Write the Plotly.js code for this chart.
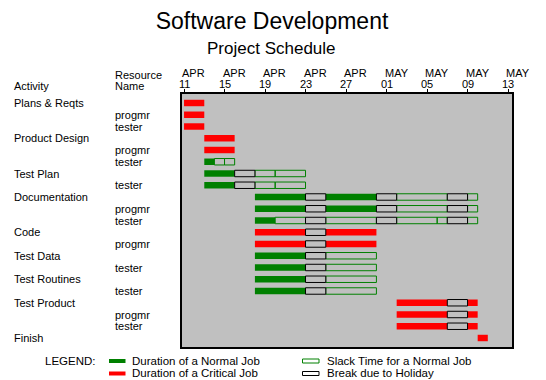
<!DOCTYPE html>
<html><head><meta charset="utf-8">
<script src="https://cdn.plot.ly/plotly-3.0.1.min.js"></script>
<style>html,body{margin:0;padding:0;background:#fff}#chart{width:546px;height:380px}</style>
</head><body><div id="chart"></div>
<script>
// ---- data ----
const activityLabels = ["Plans & Reqts","","","Product Design","","","Test Plan","","Documentation","","","Code","","Test Data","","Test Routines","","Test Product","","","Finish"];
const resourceLabels = ["","progmr","tester","","progmr","tester","","tester","","progmr","tester","","progmr","","tester","","tester","","progmr","tester",""];

const criticalRows   = [0,1,2,3,4,11,11,12,12,17,17,18,18,19,19,20];
const criticalStart  = ["04-11","04-11","04-11","04-13","04-13","04-18","04-25","04-18","04-25","05-02","05-09","05-02","05-09","05-02","05-09","05-10"];
const criticalFinish = ["04-12","04-12","04-12","04-15","04-15","04-22","04-29","04-22","04-29","05-06","05-09","05-06","05-09","05-06","05-09","05-10"];

const normalRows   = [5,6,7,8,8,9,9,10,13,14,15,16];
const normalStart  = ["04-13","04-13","04-13","04-18","04-25","04-18","04-25","04-18","04-18","04-18","04-18","04-18"];
const normalFinish = ["04-13","04-15","04-15","04-22","04-29","04-22","04-29","04-19","04-22","04-22","04-22","04-22"];

const slackRows   = [5,5,6,6,7,7,8,8,9,9,10,10,10,10,10,13,14,15,16];
const slackStart  = ["04-14","04-15","04-18","04-20","04-18","04-20","05-02","05-09","05-02","05-09","04-20","04-25","05-02","05-06","05-09","04-25","04-25","04-25","04-25"];
const slackFinish = ["04-14","04-15","04-19","04-22","04-19","04-22","05-06","05-09","05-06","05-09","04-22","04-29","05-05","05-06","05-09","04-29","04-29","04-29","04-29"];

const holidayRows   = [6,7,8,8,8,9,9,9,10,10,10,11,12,13,14,15,16,17,18,19];
const holidayStart  = ["04-16","04-16","04-23","04-30","05-07","04-23","04-30","05-07","04-23","04-30","05-07","04-23","04-23","04-23","04-23","04-23","04-23","05-07","05-07","05-07"];
const holidayFinish = ["04-17","04-17","04-24","05-01","05-08","04-24","05-01","05-08","04-24","05-01","05-08","04-24","04-24","04-24","04-24","04-24","04-24","05-08","05-08","05-08"];

const tickDates  = ["04-11","04-15","04-19","04-23","04-27","05-01","05-05","05-09","05-13"];
const tickMonths = ["APR","APR","APR","APR","APR","MAY","MAY","MAY","MAY"];
const tickDays   = ["11","15","19","23","27","01","05","09","13"];

const legendLabels = ["Duration of a Normal Job","Duration of a Critical Job","Slack Time for a Normal Job","Break due to Holiday"];

// ---- helpers ----
const YEAR = "1988-";
const origin = Date.parse(YEAR + "04-11");
const dayOf = s => (Date.parse(YEAR + s) - origin) / 864e5;

const FONT = "Liberation Sans, Arial, Helvetica, sans-serif";
const GREEN = "#008000", RED = "#ff0000", GRAY = "#c0c0c0";
const L = 182, R = 512, T = 94, B = 347;
const W = R - L, H = B - T;
const px = p => (p - L) / W;
const py = p => (B - p) / H;

function segTrace(rows, starts, finishes, fill, lineColor, lineWidth) {
  return {
    type: "bar", orientation: "h",
    y: rows,
    base: starts.map(dayOf),
    x: finishes.map((f, i) => dayOf(f) + 1 - dayOf(starts[i])),
    width: 0.55,
    marker: { color: fill, line: { color: lineColor, width: lineWidth } },
    showlegend: false, hoverinfo: "skip"
  };
}

const data = [
  segTrace(criticalRows, criticalStart, criticalFinish, RED, RED, 0),
  segTrace(normalRows, normalStart, normalFinish, GREEN, GREEN, 0),
  segTrace(slackRows, slackStart, slackFinish, "rgba(0,0,0,0)", GREEN, 1),
  segTrace(holidayRows, holidayStart, holidayFinish, GRAY, "#000000", 1)
];

const ann = [];
const txt = (text, x, y, opts) => Object.assign({
  text: text, xref: "paper", yref: "paper", x: px(x), y: py(y),
  xanchor: "left", yanchor: "middle", showarrow: false,
  font: { family: FONT, size: 11, color: "#000" }
}, opts || {});

// row labels
activityLabels.forEach((t, i) => { if (t) ann.push(Object.assign(txt(t, 12, 0), { yref: "y", y: i })); });
resourceLabels.forEach((t, i) => { if (t) ann.push(Object.assign(txt(t, 113, 0), { yref: "y", y: i })); });
// headers
ann.push(txt("Activity", 12, 86));
ann.push(txt("Resource", 113, 74.5));
ann.push(txt("Name", 113, 85.5));
// time axis labels: month on top line, day centred under it on the tick
tickDates.forEach((d, i) => {
  ann.push(Object.assign(txt(tickMonths[i], 0, 72.5), { xref: "x", x: dayOf(d), xshift: -4 }));
  ann.push(Object.assign(txt(tickDays[i], 0, 84.2), { xref: "x", x: dayOf(d), xanchor: "center" }));
});
// subtitle
ann.push(txt("Project Schedule", 271, 48.5, { xanchor: "center", font: { family: FONT, size: 17, color: "#000" } }));
// legend
const LF = { family: FONT, size: 11.5, color: "#000" };
ann.push(txt("LEGEND:", 43, 360.5, { font: LF }));
ann.push(txt(legendLabels[0], 130, 360.5, { font: LF }));
ann.push(txt(legendLabels[1], 130, 373, { font: LF }));
ann.push(txt(legendLabels[2], 325, 360.5, { font: LF }));
ann.push(txt(legendLabels[3], 325, 373, { font: LF }));

const shapes = [
  { type: "rect", xref: "paper", yref: "paper", x0: px(109), x1: px(125.5), y0: py(363), y1: py(359), fillcolor: GREEN, line: { width: 0 } },
  { type: "rect", xref: "paper", yref: "paper", x0: px(109), x1: px(125.5), y0: py(375.5), y1: py(371.5), fillcolor: RED, line: { width: 0 } },
  { type: "rect", xref: "paper", yref: "paper", x0: px(302.5), x1: px(319), y0: py(363), y1: py(359), fillcolor: "rgba(0,0,0,0)", line: { color: GREEN, width: 1 } },
  { type: "rect", xref: "paper", yref: "paper", x0: px(302.5), x1: px(319), y0: py(375.5), y1: py(371.5), fillcolor: "rgba(0,0,0,0)", line: { color: "#000", width: 1 } }
];

const layout = {
  width: 546, height: 380,
  margin: { l: L, r: 546 - R, t: T, b: 380 - B, pad: 0 },
  paper_bgcolor: "#ffffff", plot_bgcolor: GRAY,
  font: { family: FONT, size: 11, color: "#000" },
  title: { text: "Software Development", font: { family: FONT, size: 23, color: "#000" },
           x: 272 / 546, xanchor: "center", xref: "container", y: 1 - 20.5 / 380, yanchor: "middle", yref: "container" },
  barmode: "overlay",
  showlegend: false,
  xaxis: {
    range: [-0.2, 32.39], side: "top",
    tickmode: "array", tickvals: tickDates.map(dayOf), ticktext: tickDays,
    showticklabels: false,
    ticks: "outside", ticklen: 3, tickwidth: 1, tickcolor: "#000",
    showgrid: false, zeroline: false,
    showline: true, mirror: true, linecolor: "#000", linewidth: 2
  },
  yaxis: {
    range: [20.766, -0.766], showticklabels: false, ticks: "",
    showgrid: false, zeroline: false,
    showline: true, mirror: true, linecolor: "#000", linewidth: 2
  },
  annotations: ann,
  shapes: shapes
};

Plotly.newPlot("chart", data, layout, { displayModeBar: false, staticPlot: true });
</script>
</body></html>
